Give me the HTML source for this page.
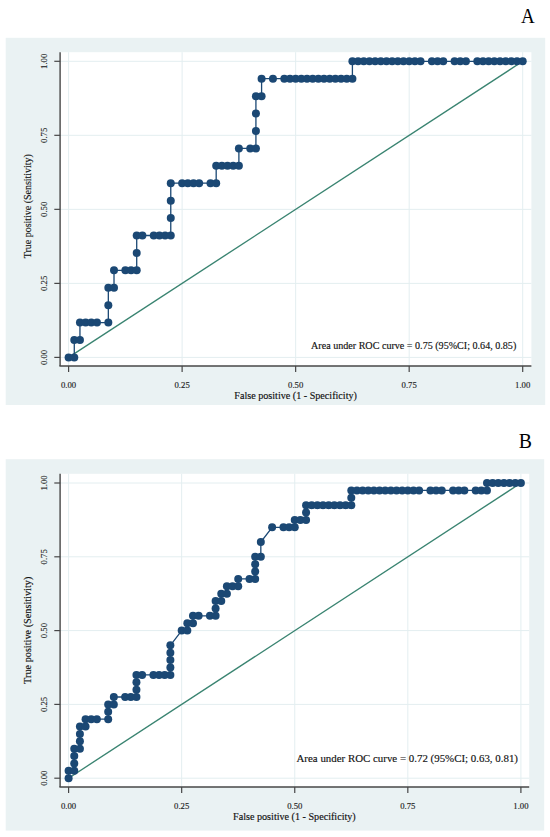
<!DOCTYPE html>
<html><head><meta charset="utf-8"><style>
html,body{margin:0;padding:0;background:#fff;width:550px;height:837px;overflow:hidden}
svg{display:block;font-family:"Liberation Serif", serif}
text{stroke:currentColor;stroke-width:0.15px}
</style></head><body>
<svg width="550" height="837" viewBox="0 0 550 837">
<rect width="550" height="837" fill="#fff"/>
<g>
<rect x="5.7" y="37.8" width="539.5" height="367.2" fill="#eaf2f3"/>
<rect x="60.1" y="52.2" width="471.29999999999995" height="313.8" fill="#ffffff"/>
<line x1="68.60" y1="52.2" x2="68.60" y2="366.0" stroke="#e3eef0" stroke-width="1"/>
<line x1="60.1" y1="357.40" x2="531.4" y2="357.40" stroke="#e3eef0" stroke-width="1"/>
<line x1="182.12" y1="52.2" x2="182.12" y2="366.0" stroke="#e3eef0" stroke-width="1"/>
<line x1="60.1" y1="283.38" x2="531.4" y2="283.38" stroke="#e3eef0" stroke-width="1"/>
<line x1="295.65" y1="52.2" x2="295.65" y2="366.0" stroke="#e3eef0" stroke-width="1"/>
<line x1="60.1" y1="209.35" x2="531.4" y2="209.35" stroke="#e3eef0" stroke-width="1"/>
<line x1="409.18" y1="52.2" x2="409.18" y2="366.0" stroke="#e3eef0" stroke-width="1"/>
<line x1="60.1" y1="135.32" x2="531.4" y2="135.32" stroke="#e3eef0" stroke-width="1"/>
<line x1="522.70" y1="52.2" x2="522.70" y2="366.0" stroke="#e3eef0" stroke-width="1"/>
<line x1="60.1" y1="61.30" x2="531.4" y2="61.30" stroke="#e3eef0" stroke-width="1"/>
<line x1="60.1" y1="52.2" x2="60.1" y2="366.0" stroke="#474747" stroke-width="1.4"/>
<line x1="59.4" y1="366.0" x2="531.4" y2="366.0" stroke="#474747" stroke-width="1.4"/>
<line x1="54.300000000000004" y1="357.40" x2="60.1" y2="357.40" stroke="#474747" stroke-width="1.2"/>
<line x1="68.60" y1="366.0" x2="68.60" y2="372.0" stroke="#474747" stroke-width="1.2"/>
<text x="68.60" y="387.9" font-size="8.7" text-anchor="middle" fill="#222" color="#222">0.00</text>
<text transform="translate(46.8,357.40) rotate(-90)" font-size="8.7" text-anchor="middle" fill="#222" color="#222">0.00</text>
<line x1="54.300000000000004" y1="283.38" x2="60.1" y2="283.38" stroke="#474747" stroke-width="1.2"/>
<line x1="182.12" y1="366.0" x2="182.12" y2="372.0" stroke="#474747" stroke-width="1.2"/>
<text x="182.12" y="387.9" font-size="8.7" text-anchor="middle" fill="#222" color="#222">0.25</text>
<text transform="translate(46.8,283.38) rotate(-90)" font-size="8.7" text-anchor="middle" fill="#222" color="#222">0.25</text>
<line x1="54.300000000000004" y1="209.35" x2="60.1" y2="209.35" stroke="#474747" stroke-width="1.2"/>
<line x1="295.65" y1="366.0" x2="295.65" y2="372.0" stroke="#474747" stroke-width="1.2"/>
<text x="295.65" y="387.9" font-size="8.7" text-anchor="middle" fill="#222" color="#222">0.50</text>
<text transform="translate(46.8,209.35) rotate(-90)" font-size="8.7" text-anchor="middle" fill="#222" color="#222">0.50</text>
<line x1="54.300000000000004" y1="135.32" x2="60.1" y2="135.32" stroke="#474747" stroke-width="1.2"/>
<line x1="409.18" y1="366.0" x2="409.18" y2="372.0" stroke="#474747" stroke-width="1.2"/>
<text x="409.18" y="387.9" font-size="8.7" text-anchor="middle" fill="#222" color="#222">0.75</text>
<text transform="translate(46.8,135.32) rotate(-90)" font-size="8.7" text-anchor="middle" fill="#222" color="#222">0.75</text>
<line x1="54.300000000000004" y1="61.30" x2="60.1" y2="61.30" stroke="#474747" stroke-width="1.2"/>
<line x1="522.70" y1="366.0" x2="522.70" y2="372.0" stroke="#474747" stroke-width="1.2"/>
<text x="522.70" y="387.9" font-size="8.7" text-anchor="middle" fill="#222" color="#222">1.00</text>
<text transform="translate(46.8,61.30) rotate(-90)" font-size="8.7" text-anchor="middle" fill="#222" color="#222">1.00</text>
<text x="295.6" y="398.6" font-size="10.15" text-anchor="middle" fill="#111" color="#111">False positive (1 - Specificity)</text>
<text transform="translate(30.8,206.2) rotate(-90)" font-size="9.95" text-anchor="middle" fill="#111" color="#111">True positive (Sensitivity)</text>
<line x1="68.60" y1="357.40" x2="522.70" y2="61.30" stroke="#3a8471" stroke-width="1.35"/>
<polyline points="68.60,357.40 74.28,357.40 74.28,339.98 79.95,339.98 79.95,322.56 85.63,322.56 91.30,322.56 96.98,322.56 108.33,322.56 108.33,305.15 108.33,287.73 114.01,287.73 114.01,270.31 125.36,270.31 131.04,270.31 136.71,270.31 136.71,252.89 136.71,235.48 142.39,235.48 153.74,235.48 159.42,235.48 165.10,235.48 170.77,235.48 170.77,218.06 170.77,200.64 170.77,183.22 182.12,183.22 187.80,183.22 193.48,183.22 199.15,183.22 210.51,183.22 216.18,183.22 216.18,165.81 221.86,165.81 227.53,165.81 233.21,165.81 238.89,165.81 238.89,148.39 250.24,148.39 255.92,148.39 255.92,130.97 255.92,113.55 255.92,96.14 261.59,96.14 261.59,78.72 272.95,78.72 284.30,78.72 289.97,78.72 295.65,78.72 301.33,78.72 307.00,78.72 312.68,78.72 318.36,78.72 324.03,78.72 329.71,78.72 335.38,78.72 341.06,78.72 346.74,78.72 352.41,78.72 352.41,61.30 358.09,61.30 363.76,61.30 369.44,61.30 375.12,61.30 380.79,61.30 386.47,61.30 392.15,61.30 397.82,61.30 403.50,61.30 409.18,61.30 414.85,61.30 420.53,61.30 431.88,61.30 437.56,61.30 443.23,61.30 454.59,61.30 460.26,61.30 465.94,61.30 477.29,61.30 482.97,61.30 488.64,61.30 494.32,61.30 500.00,61.30 505.67,61.30 511.35,61.30 517.02,61.30 522.70,61.30" fill="none" stroke="#1b4874" stroke-width="1.3"/>
<circle cx="68.60" cy="357.40" r="4.0" fill="#1b4874"/>
<circle cx="74.28" cy="357.40" r="4.0" fill="#1b4874"/>
<circle cx="74.28" cy="339.98" r="4.0" fill="#1b4874"/>
<circle cx="79.95" cy="339.98" r="4.0" fill="#1b4874"/>
<circle cx="79.95" cy="322.56" r="4.0" fill="#1b4874"/>
<circle cx="85.63" cy="322.56" r="4.0" fill="#1b4874"/>
<circle cx="91.30" cy="322.56" r="4.0" fill="#1b4874"/>
<circle cx="96.98" cy="322.56" r="4.0" fill="#1b4874"/>
<circle cx="108.33" cy="322.56" r="4.0" fill="#1b4874"/>
<circle cx="108.33" cy="305.15" r="4.0" fill="#1b4874"/>
<circle cx="108.33" cy="287.73" r="4.0" fill="#1b4874"/>
<circle cx="114.01" cy="287.73" r="4.0" fill="#1b4874"/>
<circle cx="114.01" cy="270.31" r="4.0" fill="#1b4874"/>
<circle cx="125.36" cy="270.31" r="4.0" fill="#1b4874"/>
<circle cx="131.04" cy="270.31" r="4.0" fill="#1b4874"/>
<circle cx="136.71" cy="270.31" r="4.0" fill="#1b4874"/>
<circle cx="136.71" cy="252.89" r="4.0" fill="#1b4874"/>
<circle cx="136.71" cy="235.48" r="4.0" fill="#1b4874"/>
<circle cx="142.39" cy="235.48" r="4.0" fill="#1b4874"/>
<circle cx="153.74" cy="235.48" r="4.0" fill="#1b4874"/>
<circle cx="159.42" cy="235.48" r="4.0" fill="#1b4874"/>
<circle cx="165.10" cy="235.48" r="4.0" fill="#1b4874"/>
<circle cx="170.77" cy="235.48" r="4.0" fill="#1b4874"/>
<circle cx="170.77" cy="218.06" r="4.0" fill="#1b4874"/>
<circle cx="170.77" cy="200.64" r="4.0" fill="#1b4874"/>
<circle cx="170.77" cy="183.22" r="4.0" fill="#1b4874"/>
<circle cx="182.12" cy="183.22" r="4.0" fill="#1b4874"/>
<circle cx="187.80" cy="183.22" r="4.0" fill="#1b4874"/>
<circle cx="193.48" cy="183.22" r="4.0" fill="#1b4874"/>
<circle cx="199.15" cy="183.22" r="4.0" fill="#1b4874"/>
<circle cx="210.51" cy="183.22" r="4.0" fill="#1b4874"/>
<circle cx="216.18" cy="183.22" r="4.0" fill="#1b4874"/>
<circle cx="216.18" cy="165.81" r="4.0" fill="#1b4874"/>
<circle cx="221.86" cy="165.81" r="4.0" fill="#1b4874"/>
<circle cx="227.53" cy="165.81" r="4.0" fill="#1b4874"/>
<circle cx="233.21" cy="165.81" r="4.0" fill="#1b4874"/>
<circle cx="238.89" cy="165.81" r="4.0" fill="#1b4874"/>
<circle cx="238.89" cy="148.39" r="4.0" fill="#1b4874"/>
<circle cx="250.24" cy="148.39" r="4.0" fill="#1b4874"/>
<circle cx="255.92" cy="148.39" r="4.0" fill="#1b4874"/>
<circle cx="255.92" cy="130.97" r="4.0" fill="#1b4874"/>
<circle cx="255.92" cy="113.55" r="4.0" fill="#1b4874"/>
<circle cx="255.92" cy="96.14" r="4.0" fill="#1b4874"/>
<circle cx="261.59" cy="96.14" r="4.0" fill="#1b4874"/>
<circle cx="261.59" cy="78.72" r="4.0" fill="#1b4874"/>
<circle cx="272.95" cy="78.72" r="4.0" fill="#1b4874"/>
<circle cx="284.30" cy="78.72" r="4.0" fill="#1b4874"/>
<circle cx="289.97" cy="78.72" r="4.0" fill="#1b4874"/>
<circle cx="295.65" cy="78.72" r="4.0" fill="#1b4874"/>
<circle cx="301.33" cy="78.72" r="4.0" fill="#1b4874"/>
<circle cx="307.00" cy="78.72" r="4.0" fill="#1b4874"/>
<circle cx="312.68" cy="78.72" r="4.0" fill="#1b4874"/>
<circle cx="318.36" cy="78.72" r="4.0" fill="#1b4874"/>
<circle cx="324.03" cy="78.72" r="4.0" fill="#1b4874"/>
<circle cx="329.71" cy="78.72" r="4.0" fill="#1b4874"/>
<circle cx="335.38" cy="78.72" r="4.0" fill="#1b4874"/>
<circle cx="341.06" cy="78.72" r="4.0" fill="#1b4874"/>
<circle cx="346.74" cy="78.72" r="4.0" fill="#1b4874"/>
<circle cx="352.41" cy="78.72" r="4.0" fill="#1b4874"/>
<circle cx="352.41" cy="61.30" r="4.0" fill="#1b4874"/>
<circle cx="358.09" cy="61.30" r="4.0" fill="#1b4874"/>
<circle cx="363.76" cy="61.30" r="4.0" fill="#1b4874"/>
<circle cx="369.44" cy="61.30" r="4.0" fill="#1b4874"/>
<circle cx="375.12" cy="61.30" r="4.0" fill="#1b4874"/>
<circle cx="380.79" cy="61.30" r="4.0" fill="#1b4874"/>
<circle cx="386.47" cy="61.30" r="4.0" fill="#1b4874"/>
<circle cx="392.15" cy="61.30" r="4.0" fill="#1b4874"/>
<circle cx="397.82" cy="61.30" r="4.0" fill="#1b4874"/>
<circle cx="403.50" cy="61.30" r="4.0" fill="#1b4874"/>
<circle cx="409.18" cy="61.30" r="4.0" fill="#1b4874"/>
<circle cx="414.85" cy="61.30" r="4.0" fill="#1b4874"/>
<circle cx="420.53" cy="61.30" r="4.0" fill="#1b4874"/>
<circle cx="431.88" cy="61.30" r="4.0" fill="#1b4874"/>
<circle cx="437.56" cy="61.30" r="4.0" fill="#1b4874"/>
<circle cx="443.23" cy="61.30" r="4.0" fill="#1b4874"/>
<circle cx="454.59" cy="61.30" r="4.0" fill="#1b4874"/>
<circle cx="460.26" cy="61.30" r="4.0" fill="#1b4874"/>
<circle cx="465.94" cy="61.30" r="4.0" fill="#1b4874"/>
<circle cx="477.29" cy="61.30" r="4.0" fill="#1b4874"/>
<circle cx="482.97" cy="61.30" r="4.0" fill="#1b4874"/>
<circle cx="488.64" cy="61.30" r="4.0" fill="#1b4874"/>
<circle cx="494.32" cy="61.30" r="4.0" fill="#1b4874"/>
<circle cx="500.00" cy="61.30" r="4.0" fill="#1b4874"/>
<circle cx="505.67" cy="61.30" r="4.0" fill="#1b4874"/>
<circle cx="511.35" cy="61.30" r="4.0" fill="#1b4874"/>
<circle cx="517.02" cy="61.30" r="4.0" fill="#1b4874"/>
<circle cx="522.70" cy="61.30" r="4.0" fill="#1b4874"/>
<text x="311.0" y="349.0" font-size="10.1" fill="#111" color="#111">Area under ROC curve = 0.75 (95%CI; 0.64, 0.85)</text>
<text transform="translate(520.9,22.9) scale(0.87,1)" font-size="21.8" fill="#000" style="stroke:none">A</text>
<rect x="5.7" y="459.2" width="538.5" height="371.40000000000003" fill="#eaf2f3"/>
<rect x="60.1" y="473.8" width="469.1" height="313.2" fill="#ffffff"/>
<line x1="68.60" y1="473.8" x2="68.60" y2="787.0" stroke="#e3eef0" stroke-width="1"/>
<line x1="60.1" y1="778.20" x2="529.2" y2="778.20" stroke="#e3eef0" stroke-width="1"/>
<line x1="181.67" y1="473.8" x2="181.67" y2="787.0" stroke="#e3eef0" stroke-width="1"/>
<line x1="60.1" y1="704.40" x2="529.2" y2="704.40" stroke="#e3eef0" stroke-width="1"/>
<line x1="294.75" y1="473.8" x2="294.75" y2="787.0" stroke="#e3eef0" stroke-width="1"/>
<line x1="60.1" y1="630.60" x2="529.2" y2="630.60" stroke="#e3eef0" stroke-width="1"/>
<line x1="407.82" y1="473.8" x2="407.82" y2="787.0" stroke="#e3eef0" stroke-width="1"/>
<line x1="60.1" y1="556.80" x2="529.2" y2="556.80" stroke="#e3eef0" stroke-width="1"/>
<line x1="520.90" y1="473.8" x2="520.90" y2="787.0" stroke="#e3eef0" stroke-width="1"/>
<line x1="60.1" y1="483.00" x2="529.2" y2="483.00" stroke="#e3eef0" stroke-width="1"/>
<line x1="60.1" y1="473.8" x2="60.1" y2="787.0" stroke="#474747" stroke-width="1.4"/>
<line x1="59.4" y1="787.0" x2="529.2" y2="787.0" stroke="#474747" stroke-width="1.4"/>
<line x1="54.300000000000004" y1="778.20" x2="60.1" y2="778.20" stroke="#474747" stroke-width="1.2"/>
<line x1="68.60" y1="787.0" x2="68.60" y2="793.0" stroke="#474747" stroke-width="1.2"/>
<text x="68.60" y="808.9" font-size="8.7" text-anchor="middle" fill="#222" color="#222">0.00</text>
<text transform="translate(46.8,778.20) rotate(-90)" font-size="8.7" text-anchor="middle" fill="#222" color="#222">0.00</text>
<line x1="54.300000000000004" y1="704.40" x2="60.1" y2="704.40" stroke="#474747" stroke-width="1.2"/>
<line x1="181.67" y1="787.0" x2="181.67" y2="793.0" stroke="#474747" stroke-width="1.2"/>
<text x="181.67" y="808.9" font-size="8.7" text-anchor="middle" fill="#222" color="#222">0.25</text>
<text transform="translate(46.8,704.40) rotate(-90)" font-size="8.7" text-anchor="middle" fill="#222" color="#222">0.25</text>
<line x1="54.300000000000004" y1="630.60" x2="60.1" y2="630.60" stroke="#474747" stroke-width="1.2"/>
<line x1="294.75" y1="787.0" x2="294.75" y2="793.0" stroke="#474747" stroke-width="1.2"/>
<text x="294.75" y="808.9" font-size="8.7" text-anchor="middle" fill="#222" color="#222">0.50</text>
<text transform="translate(46.8,630.60) rotate(-90)" font-size="8.7" text-anchor="middle" fill="#222" color="#222">0.50</text>
<line x1="54.300000000000004" y1="556.80" x2="60.1" y2="556.80" stroke="#474747" stroke-width="1.2"/>
<line x1="407.82" y1="787.0" x2="407.82" y2="793.0" stroke="#474747" stroke-width="1.2"/>
<text x="407.82" y="808.9" font-size="8.7" text-anchor="middle" fill="#222" color="#222">0.75</text>
<text transform="translate(46.8,556.80) rotate(-90)" font-size="8.7" text-anchor="middle" fill="#222" color="#222">0.75</text>
<line x1="54.300000000000004" y1="483.00" x2="60.1" y2="483.00" stroke="#474747" stroke-width="1.2"/>
<line x1="520.90" y1="787.0" x2="520.90" y2="793.0" stroke="#474747" stroke-width="1.2"/>
<text x="520.90" y="808.9" font-size="8.7" text-anchor="middle" fill="#222" color="#222">1.00</text>
<text transform="translate(46.8,483.00) rotate(-90)" font-size="8.7" text-anchor="middle" fill="#222" color="#222">1.00</text>
<text x="294.4" y="819.9" font-size="10.15" text-anchor="middle" fill="#111" color="#111">False positive (1 - Specificity)</text>
<text transform="translate(30.8,630.3) rotate(-90)" font-size="10.25" text-anchor="middle" fill="#111" color="#111">True positive (Sensitivity)</text>
<line x1="68.60" y1="778.20" x2="520.90" y2="483.00" stroke="#3a8471" stroke-width="1.35"/>
<polyline points="68.60,778.20 68.60,770.82 74.25,770.82 74.25,763.44 74.25,756.06 74.25,748.68 79.91,748.68 79.91,741.30 79.91,733.92 79.91,726.54 85.56,726.54 85.56,719.16 91.21,719.16 96.87,719.16 108.18,719.16 108.18,711.78 108.18,704.40 113.83,704.40 113.83,697.02 125.14,697.02 130.79,697.02 136.44,697.02 136.44,689.64 136.44,682.26 136.44,674.88 142.10,674.88 153.41,674.88 159.06,674.88 164.71,674.88 170.37,674.88 170.37,667.50 170.37,660.12 170.37,652.74 170.37,645.36 181.67,630.60 187.33,630.60 187.33,623.22 192.98,623.22 192.98,615.84 198.64,615.84 209.94,615.84 215.60,615.84 215.60,608.46 215.60,601.08 221.25,601.08 221.25,593.70 226.90,593.70 226.90,586.32 232.56,586.32 238.21,586.32 238.21,578.94 249.52,578.94 255.17,578.94 255.17,571.56 255.17,564.18 255.17,556.80 260.83,556.80 260.83,542.04 272.13,527.28 283.44,527.28 289.10,527.28 294.75,527.28 294.75,519.90 300.40,519.90 306.06,519.90 306.06,512.52 306.06,505.14 311.71,505.14 317.37,505.14 323.02,505.14 328.67,505.14 334.33,505.14 339.98,505.14 345.63,505.14 351.29,505.14 351.29,497.76 351.29,490.38 356.94,490.38 362.60,490.38 368.25,490.38 373.90,490.38 379.56,490.38 385.21,490.38 390.86,490.38 396.52,490.38 402.17,490.38 407.82,490.38 413.48,490.38 419.13,490.38 430.44,490.38 436.09,490.38 441.75,490.38 453.05,490.38 458.71,490.38 464.36,490.38 475.67,490.38 481.32,490.38 486.98,490.38 486.98,483.00 492.63,483.00 498.28,483.00 503.94,483.00 509.59,483.00 515.25,483.00 520.90,483.00" fill="none" stroke="#1b4874" stroke-width="1.3"/>
<circle cx="68.60" cy="778.20" r="4.0" fill="#1b4874"/>
<circle cx="68.60" cy="770.82" r="4.0" fill="#1b4874"/>
<circle cx="74.25" cy="770.82" r="4.0" fill="#1b4874"/>
<circle cx="74.25" cy="763.44" r="4.0" fill="#1b4874"/>
<circle cx="74.25" cy="756.06" r="4.0" fill="#1b4874"/>
<circle cx="74.25" cy="748.68" r="4.0" fill="#1b4874"/>
<circle cx="79.91" cy="748.68" r="4.0" fill="#1b4874"/>
<circle cx="79.91" cy="741.30" r="4.0" fill="#1b4874"/>
<circle cx="79.91" cy="733.92" r="4.0" fill="#1b4874"/>
<circle cx="79.91" cy="726.54" r="4.0" fill="#1b4874"/>
<circle cx="85.56" cy="726.54" r="4.0" fill="#1b4874"/>
<circle cx="85.56" cy="719.16" r="4.0" fill="#1b4874"/>
<circle cx="91.21" cy="719.16" r="4.0" fill="#1b4874"/>
<circle cx="96.87" cy="719.16" r="4.0" fill="#1b4874"/>
<circle cx="108.18" cy="719.16" r="4.0" fill="#1b4874"/>
<circle cx="108.18" cy="711.78" r="4.0" fill="#1b4874"/>
<circle cx="108.18" cy="704.40" r="4.0" fill="#1b4874"/>
<circle cx="113.83" cy="704.40" r="4.0" fill="#1b4874"/>
<circle cx="113.83" cy="697.02" r="4.0" fill="#1b4874"/>
<circle cx="125.14" cy="697.02" r="4.0" fill="#1b4874"/>
<circle cx="130.79" cy="697.02" r="4.0" fill="#1b4874"/>
<circle cx="136.44" cy="697.02" r="4.0" fill="#1b4874"/>
<circle cx="136.44" cy="689.64" r="4.0" fill="#1b4874"/>
<circle cx="136.44" cy="682.26" r="4.0" fill="#1b4874"/>
<circle cx="136.44" cy="674.88" r="4.0" fill="#1b4874"/>
<circle cx="142.10" cy="674.88" r="4.0" fill="#1b4874"/>
<circle cx="153.41" cy="674.88" r="4.0" fill="#1b4874"/>
<circle cx="159.06" cy="674.88" r="4.0" fill="#1b4874"/>
<circle cx="164.71" cy="674.88" r="4.0" fill="#1b4874"/>
<circle cx="170.37" cy="674.88" r="4.0" fill="#1b4874"/>
<circle cx="170.37" cy="667.50" r="4.0" fill="#1b4874"/>
<circle cx="170.37" cy="660.12" r="4.0" fill="#1b4874"/>
<circle cx="170.37" cy="652.74" r="4.0" fill="#1b4874"/>
<circle cx="170.37" cy="645.36" r="4.0" fill="#1b4874"/>
<circle cx="181.67" cy="630.60" r="4.0" fill="#1b4874"/>
<circle cx="187.33" cy="630.60" r="4.0" fill="#1b4874"/>
<circle cx="187.33" cy="623.22" r="4.0" fill="#1b4874"/>
<circle cx="192.98" cy="623.22" r="4.0" fill="#1b4874"/>
<circle cx="192.98" cy="615.84" r="4.0" fill="#1b4874"/>
<circle cx="198.64" cy="615.84" r="4.0" fill="#1b4874"/>
<circle cx="209.94" cy="615.84" r="4.0" fill="#1b4874"/>
<circle cx="215.60" cy="615.84" r="4.0" fill="#1b4874"/>
<circle cx="215.60" cy="608.46" r="4.0" fill="#1b4874"/>
<circle cx="215.60" cy="601.08" r="4.0" fill="#1b4874"/>
<circle cx="221.25" cy="601.08" r="4.0" fill="#1b4874"/>
<circle cx="221.25" cy="593.70" r="4.0" fill="#1b4874"/>
<circle cx="226.90" cy="593.70" r="4.0" fill="#1b4874"/>
<circle cx="226.90" cy="586.32" r="4.0" fill="#1b4874"/>
<circle cx="232.56" cy="586.32" r="4.0" fill="#1b4874"/>
<circle cx="238.21" cy="586.32" r="4.0" fill="#1b4874"/>
<circle cx="238.21" cy="578.94" r="4.0" fill="#1b4874"/>
<circle cx="249.52" cy="578.94" r="4.0" fill="#1b4874"/>
<circle cx="255.17" cy="578.94" r="4.0" fill="#1b4874"/>
<circle cx="255.17" cy="571.56" r="4.0" fill="#1b4874"/>
<circle cx="255.17" cy="564.18" r="4.0" fill="#1b4874"/>
<circle cx="255.17" cy="556.80" r="4.0" fill="#1b4874"/>
<circle cx="260.83" cy="556.80" r="4.0" fill="#1b4874"/>
<circle cx="260.83" cy="542.04" r="4.0" fill="#1b4874"/>
<circle cx="272.13" cy="527.28" r="4.0" fill="#1b4874"/>
<circle cx="283.44" cy="527.28" r="4.0" fill="#1b4874"/>
<circle cx="289.10" cy="527.28" r="4.0" fill="#1b4874"/>
<circle cx="294.75" cy="527.28" r="4.0" fill="#1b4874"/>
<circle cx="294.75" cy="519.90" r="4.0" fill="#1b4874"/>
<circle cx="300.40" cy="519.90" r="4.0" fill="#1b4874"/>
<circle cx="306.06" cy="519.90" r="4.0" fill="#1b4874"/>
<circle cx="306.06" cy="512.52" r="4.0" fill="#1b4874"/>
<circle cx="306.06" cy="505.14" r="4.0" fill="#1b4874"/>
<circle cx="311.71" cy="505.14" r="4.0" fill="#1b4874"/>
<circle cx="317.37" cy="505.14" r="4.0" fill="#1b4874"/>
<circle cx="323.02" cy="505.14" r="4.0" fill="#1b4874"/>
<circle cx="328.67" cy="505.14" r="4.0" fill="#1b4874"/>
<circle cx="334.33" cy="505.14" r="4.0" fill="#1b4874"/>
<circle cx="339.98" cy="505.14" r="4.0" fill="#1b4874"/>
<circle cx="345.63" cy="505.14" r="4.0" fill="#1b4874"/>
<circle cx="351.29" cy="505.14" r="4.0" fill="#1b4874"/>
<circle cx="351.29" cy="497.76" r="4.0" fill="#1b4874"/>
<circle cx="351.29" cy="490.38" r="4.0" fill="#1b4874"/>
<circle cx="356.94" cy="490.38" r="4.0" fill="#1b4874"/>
<circle cx="362.60" cy="490.38" r="4.0" fill="#1b4874"/>
<circle cx="368.25" cy="490.38" r="4.0" fill="#1b4874"/>
<circle cx="373.90" cy="490.38" r="4.0" fill="#1b4874"/>
<circle cx="379.56" cy="490.38" r="4.0" fill="#1b4874"/>
<circle cx="385.21" cy="490.38" r="4.0" fill="#1b4874"/>
<circle cx="390.86" cy="490.38" r="4.0" fill="#1b4874"/>
<circle cx="396.52" cy="490.38" r="4.0" fill="#1b4874"/>
<circle cx="402.17" cy="490.38" r="4.0" fill="#1b4874"/>
<circle cx="407.82" cy="490.38" r="4.0" fill="#1b4874"/>
<circle cx="413.48" cy="490.38" r="4.0" fill="#1b4874"/>
<circle cx="419.13" cy="490.38" r="4.0" fill="#1b4874"/>
<circle cx="430.44" cy="490.38" r="4.0" fill="#1b4874"/>
<circle cx="436.09" cy="490.38" r="4.0" fill="#1b4874"/>
<circle cx="441.75" cy="490.38" r="4.0" fill="#1b4874"/>
<circle cx="453.05" cy="490.38" r="4.0" fill="#1b4874"/>
<circle cx="458.71" cy="490.38" r="4.0" fill="#1b4874"/>
<circle cx="464.36" cy="490.38" r="4.0" fill="#1b4874"/>
<circle cx="475.67" cy="490.38" r="4.0" fill="#1b4874"/>
<circle cx="481.32" cy="490.38" r="4.0" fill="#1b4874"/>
<circle cx="486.98" cy="490.38" r="4.0" fill="#1b4874"/>
<circle cx="486.98" cy="483.00" r="4.0" fill="#1b4874"/>
<circle cx="492.63" cy="483.00" r="4.0" fill="#1b4874"/>
<circle cx="498.28" cy="483.00" r="4.0" fill="#1b4874"/>
<circle cx="503.94" cy="483.00" r="4.0" fill="#1b4874"/>
<circle cx="509.59" cy="483.00" r="4.0" fill="#1b4874"/>
<circle cx="515.25" cy="483.00" r="4.0" fill="#1b4874"/>
<circle cx="520.90" cy="483.00" r="4.0" fill="#1b4874"/>
<text x="296.5" y="762.2" font-size="10.9" fill="#111" color="#111">Area under ROC curve = 0.72 (95%CI; 0.63, 0.81)</text>
<text transform="translate(518.7,448.1) scale(0.9,1)" font-size="22" fill="#000" style="stroke:none">B</text>
</g>
</svg>
</body></html>
